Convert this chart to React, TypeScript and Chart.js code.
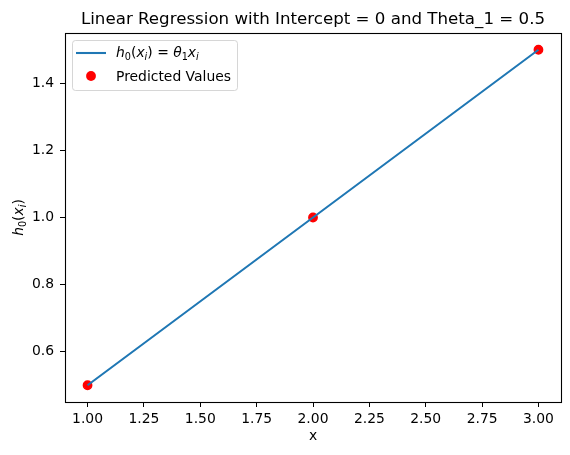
import { useEffect, useRef } from "react";
import { Chart, Plugin, registerables } from "chart.js";

Chart.register(...registerables);

// data
const xValues = [1, 2, 3];
const predictedValues = [0.5, 1.0, 1.5];
const xTicks = [1.0, 1.25, 1.5, 1.75, 2.0, 2.25, 2.5, 2.75, 3.0];
const yTicks = [0.6, 0.8, 1.0, 1.2, 1.4];

const titleText = "Linear Regression with Intercept = 0 and Theta_1 = 0.5";
const xLabel = "x";
const scatterLabel = "Predicted Values";

const FONT = "'DejaVu Sans', sans-serif";
const FS = 13.9;
const SUB = 9.7;
const BLUE = "#1f77b4";

type Piece = { t: string; it?: boolean; sub?: boolean };

// h_0(x_i)
const yLabelMath: Piece[] = [
  { t: "h", it: true },
  { t: "0", sub: true },
  { t: "(" },
  { t: "x", it: true },
  { t: "i", it: true, sub: true },
  { t: ")" },
];

// h_0(x_i) = theta_1 x_i
const lineLabelMath: Piece[] = [
  ...yLabelMath,
  { t: " = " },
  { t: "θ", it: true },
  { t: "1", sub: true },
  { t: "x", it: true },
  { t: "i", it: true, sub: true },
];

function pieceFont(p: Piece) {
  return `${p.it ? "italic " : ""}${p.sub ? SUB : FS}px ${FONT}`;
}

function mathWidth(ctx: CanvasRenderingContext2D, pieces: Piece[]) {
  let w = 0;
  for (const p of pieces) {
    ctx.font = pieceFont(p);
    w += ctx.measureText(p.t).width;
  }
  return w;
}

function drawMath(ctx: CanvasRenderingContext2D, pieces: Piece[], x: number, y: number) {
  let cx = x;
  ctx.textAlign = "left";
  ctx.textBaseline = "alphabetic";
  for (const p of pieces) {
    ctx.font = pieceFont(p);
    ctx.fillText(p.t, cx, p.sub ? y + 3 : y);
    cx += ctx.measureText(p.t).width;
  }
}

const decorations: Plugin = {
  id: "decorations",
  afterDraw(chart) {
    const { ctx, chartArea: a } = chart;
    const cx = (a.left + a.right) / 2;
    ctx.save();

    // frame (all four spines)
    ctx.strokeStyle = "#000";
    ctx.lineWidth = 1.1;
    ctx.strokeRect(Math.floor(a.left) + 0.5, Math.floor(a.top) + 0.5,
      Math.floor(a.right) - Math.floor(a.left), Math.floor(a.bottom) - Math.floor(a.top));

    ctx.fillStyle = "#000";
    // title
    ctx.font = `16.67px ${FONT}`;
    ctx.textAlign = "center";
    ctx.textBaseline = "alphabetic";
    ctx.fillText(titleText, cx, 24);

    // x label
    ctx.font = `${FS}px ${FONT}`;
    ctx.fillText(xLabel, cx, 440);

    // y label (rotated)
    ctx.save();
    ctx.translate(23, (a.top + a.bottom) / 2);
    ctx.rotate(-Math.PI / 2);
    const yw = mathWidth(ctx, yLabelMath);
    drawMath(ctx, yLabelMath, -yw / 2, 0);
    ctx.restore();

    // legend
    const lx = 72, ly = 40, lw = 165, lh = 50;
    ctx.beginPath();
    ctx.roundRect(lx + 0.5, ly + 0.5, lw, lh, 3);
    ctx.fillStyle = "rgba(255,255,255,0.8)";
    ctx.fill();
    ctx.strokeStyle = "rgba(204,204,204,0.8)";
    ctx.lineWidth = 1;
    ctx.stroke();

    ctx.strokeStyle = BLUE;
    ctx.lineWidth = 2.08;
    ctx.beginPath();
    ctx.moveTo(76, 53);
    ctx.lineTo(106, 53);
    ctx.stroke();

    ctx.fillStyle = "#000";
    drawMath(ctx, lineLabelMath, 116, 57);

    ctx.fillStyle = "red";
    ctx.beginPath();
    ctx.arc(91, 76, 4.9, 0, Math.PI * 2);
    ctx.fill();

    ctx.fillStyle = "#000";
    ctx.font = `${FS}px ${FONT}`;
    ctx.textAlign = "left";
    ctx.fillText(scatterLabel, 116, 81);

    ctx.restore();
  },
};

const tickFont = { family: FONT, size: FS };

export default function App() {
  const canvasRef = useRef<HTMLCanvasElement>(null);
  const chartRef = useRef<Chart | null>(null);

  useEffect(() => {
    document.body.style.margin = "0";
    if (!canvasRef.current) return;
    const ctx = canvasRef.current.getContext("2d");
    if (!ctx) return;

    if (chartRef.current) chartRef.current.destroy();

    const points = xValues.map((x, i) => ({ x, y: predictedValues[i] }));

    chartRef.current = new Chart(ctx, {
      type: "scatter",
      data: {
        datasets: [
          {
            type: "line",
            label: "line",
            data: points,
            borderColor: BLUE,
            borderWidth: 2.08,
            pointRadius: 0,
            fill: false,
            tension: 0,
            order: 1,
          },
          {
            type: "scatter",
            label: scatterLabel,
            data: points,
            backgroundColor: "red",
            borderColor: "red",
            borderWidth: 1.4,
            pointRadius: 4.2,
            pointHoverRadius: 4.2,
            order: 2,
          },
        ],
      },
      options: {
        responsive: false,
        animation: false,
        events: [],
        layout: { padding: { top: 33, right: 9, left: 0, bottom: 0 } },
        plugins: {
          legend: { display: false },
          title: { display: false },
          tooltip: { enabled: false },
        },
        scales: {
          x: {
            type: "linear",
            min: 0.9,
            max: 3.1,
            afterBuildTicks: (scale: any) => {
              scale.ticks = xTicks.map((v) => ({ value: v }));
            },
            afterFit: (scale: any) => {
              scale.height = 53;
            },
            ticks: {
              color: "#000",
              font: tickFont,
              padding: 4,
              maxRotation: 0,
              autoSkip: false,
              callback: (v: any) => Number(v).toFixed(2),
            },
            grid: {
              drawOnChartArea: false,
              drawTicks: true,
              tickLength: 5,
              color: "#000",
              lineWidth: 1,
            },
            border: { display: false },
          },
          y: {
            type: "linear",
            min: 0.45,
            max: 1.55,
            afterBuildTicks: (scale: any) => {
              scale.ticks = yTicks.map((v) => ({ value: v }));
            },
            afterFit: (scale: any) => {
              scale.width = 65;
            },
            ticks: {
              color: "#000",
              font: tickFont,
              padding: 6,
              autoSkip: false,
              callback: (v: any) => Number(v).toFixed(1),
            },
            grid: {
              drawOnChartArea: false,
              drawTicks: true,
              tickLength: 5,
              color: "#000",
              lineWidth: 1,
            },
            border: { display: false },
          },
        },
      },
      plugins: [decorations],
    });

    return () => {
      if (chartRef.current) {
        chartRef.current.destroy();
        chartRef.current = null;
      }
    };
  }, []);

  return (
    <div style={{ position: "absolute", left: 0, top: 0, width: 570, height: 455 }}>
      <canvas ref={canvasRef} width={570} height={455} />
    </div>
  );
}
